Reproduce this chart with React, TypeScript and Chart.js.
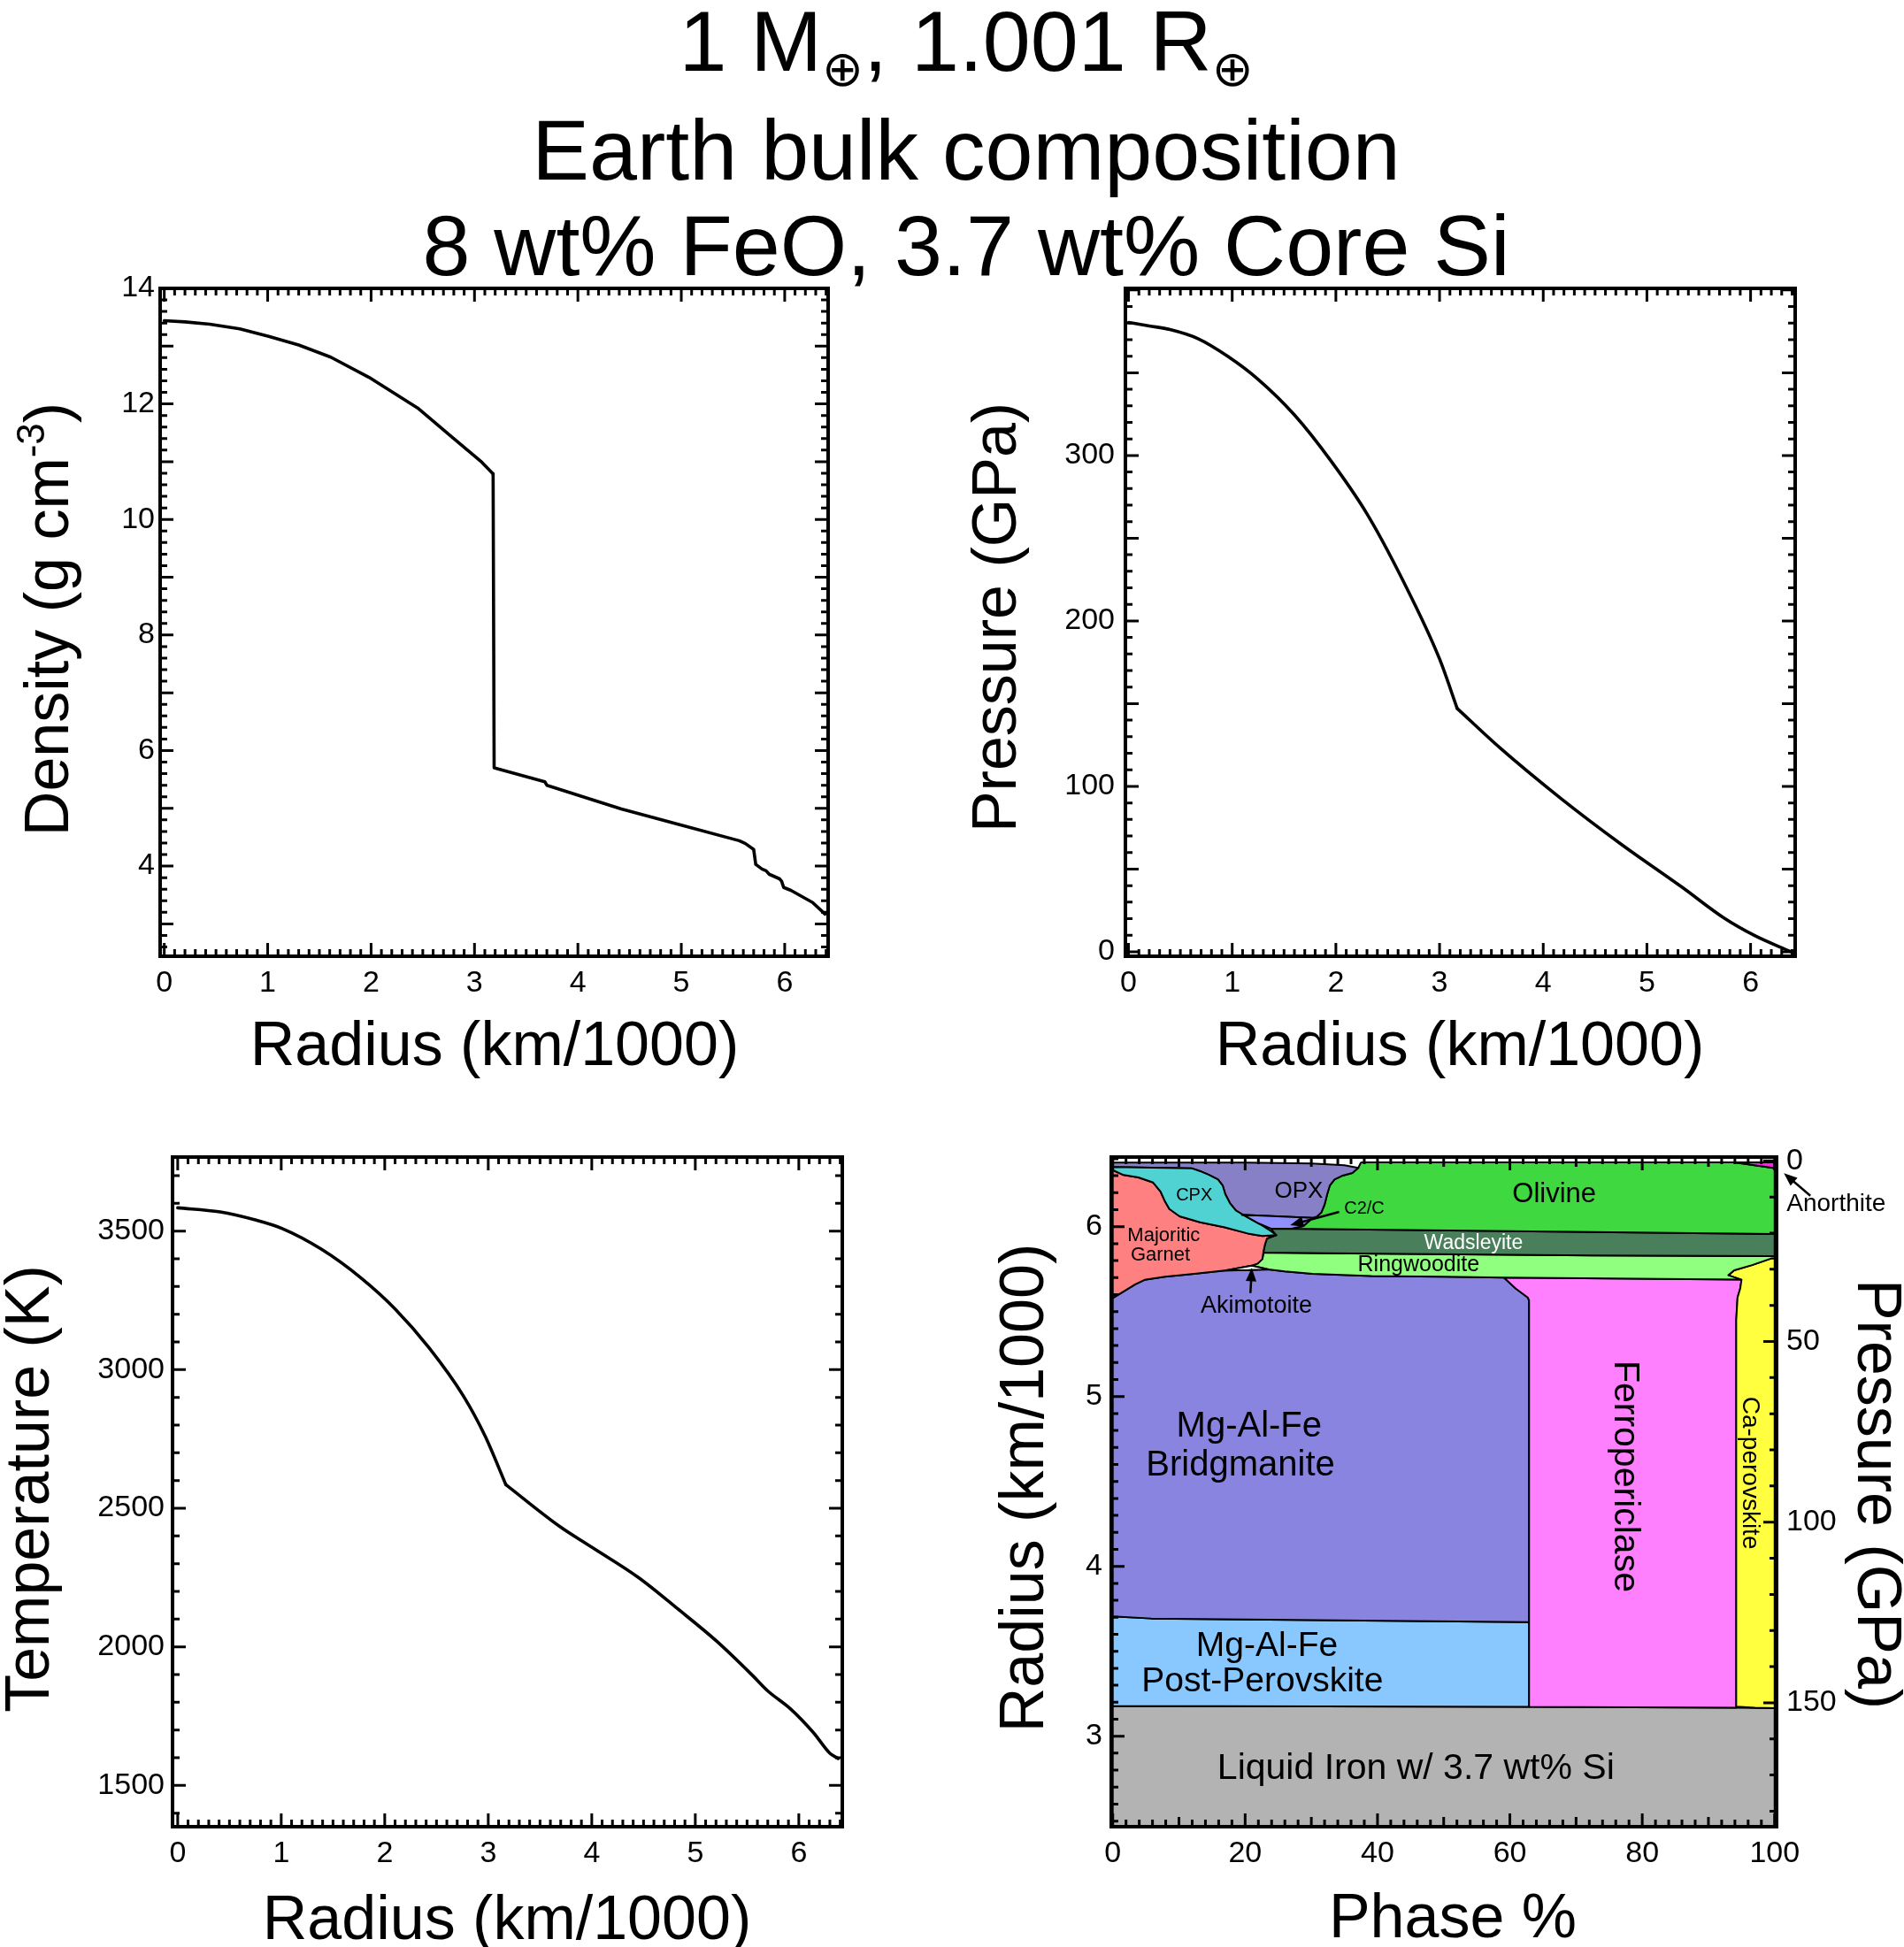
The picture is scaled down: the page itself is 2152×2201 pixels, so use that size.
import React, { useEffect, useRef } from 'react';
import { Chart, registerables } from 'chart.js';

Chart.register(...registerables);

const FONT = '"Liberation Sans", Arial, Helvetica, sans-serif';
const PAGE_W = 2152;
const PAGE_H = 2201;
const Y_AXIS_W = 120;
const X_AXIS_H = 60;

// ---------------- Radial profiles (radius in km/1000) ----------------
// the index of the core-mantle boundary point splits the core and mantle branches
const densityRadius = [0.0, 0.2, 0.44, 0.73, 1.01, 1.3, 1.61, 1.98, 2.45, 2.78, 3.06, 3.18, 3.19, 3.68, 3.7, 4.42, 4.96, 5.56, 5.62, 5.7, 5.72, 5.78, 5.82, 5.85, 5.95, 5.97, 5.99, 6.06, 6.27, 6.39];
const densityValues = [13.44, 13.42, 13.38, 13.3, 13.17, 13.02, 12.81, 12.46, 11.93, 11.43, 11.01, 10.79, 5.7, 5.46, 5.4, 4.99, 4.73, 4.44, 4.39, 4.29, 4.03, 3.95, 3.92, 3.86, 3.78, 3.74, 3.63, 3.58, 3.37, 3.17];
const densityCmbIndex = 11;

const pressureRadius = [0, 0.2, 0.4, 0.67, 0.96, 1.25, 1.6, 1.95, 2.3, 2.65, 3.0, 3.17, 3.58, 4.17, 4.75, 5.34, 5.74, 6.04, 6.39];
const pressureValues = [380.4, 378.3, 376.1, 370.6, 359.8, 346.0, 324.5, 296.9, 264.7, 224.0, 177.0, 147.1, 123.4, 92.7, 65.1, 39.0, 20.6, 9.8, 0];
const pressureCmbIndex = 11;

const temperatureRadius = [0, 0.41, 0.74, 1.01, 1.39, 1.77, 2.1, 2.43, 2.76, 2.97, 3.17, 3.68, 4.01, 4.45, 4.83, 5.21, 5.56, 5.7, 5.92, 6.14, 6.3, 6.38];
const temperatureValues = [3584, 3569, 3541, 3509, 3434, 3331, 3219, 3078, 2905, 2760, 2585, 2437, 2357, 2250, 2137, 2019, 1894, 1841, 1776, 1691, 1616, 1597];
const temperatureCmbIndex = 10;

// ---------------- Tick labels ----------------
const radiusTickLabels = [0, 1, 2, 3, 4, 5, 6];
const densityTickLabels = [4, 6, 8, 10, 12, 14];
const pressureTickLabels = [0, 100, 200, 300];
const temperatureTickLabels = [1500, 2000, 2500, 3000, 3500];
const phaseTickLabels = [0, 20, 40, 60, 80, 100];
const phaseRadiusTickLabels = [3, 4, 5, 6];
const phasePressureTickLabels = [0, 50, 100, 150];

// ---------------- Phase regions: [cumulative phase %, radius km/1000] ----------------
const garnetRegion = [[0, 6.333], [1.64, 6.304], [3.87, 6.29], [6.1, 6.26], [7.2, 6.208], [7.9, 6.148], [8.55, 6.104], [10.1, 6.061], [13.2, 6.026], [16.8, 5.997], [20.4, 5.96], [22.6, 5.945], [24.7, 5.95], [23.3, 5.931], [23.0, 5.896], [22.8, 5.861], [22.6, 5.809], [21.9, 5.783], [21.0, 5.771], [17.2, 5.743], [12.3, 5.722], [7.9, 5.705], [4.8, 5.687], [3.4, 5.661], [1.6, 5.618], [0, 5.58]];
const cpxRegion = [[0, 6.351], [11.9, 6.344], [13.2, 6.327], [14.6, 6.304], [15.9, 6.278], [16.6, 6.243], [17.0, 6.191], [17.7, 6.139], [18.6, 6.096], [19.9, 6.066], [22.1, 6.018], [23.9, 5.974], [24.7, 5.95], [22.6, 5.945], [20.4, 5.96], [16.8, 5.997], [13.2, 6.026], [10.1, 6.061], [8.55, 6.104], [7.9, 6.148], [7.2, 6.208], [6.1, 6.26], [3.87, 6.29], [1.64, 6.304], [0, 6.333]];
const opxRegion = [[0, 6.378], [20, 6.378], [30, 6.372], [35, 6.362], [37.1, 6.346], [36.2, 6.316], [34.6, 6.299], [33.5, 6.278], [32.8, 6.243], [32.4, 6.191], [32.0, 6.13], [31.5, 6.083], [30.8, 6.058], [30.2, 6.052], [19.4, 6.07], [18.6, 6.096], [17.7, 6.139], [17.0, 6.191], [16.6, 6.243], [15.9, 6.278], [14.6, 6.304], [13.2, 6.327], [11.9, 6.344], [0, 6.351]];
const c2cRegion = [[19.4, 6.07], [30.2, 6.052], [28.8, 6.004], [27.0, 5.988], [23.9, 5.988], [22.1, 6.018], [19.9, 6.066]];
const olivineRegion = [[37.5, 6.379], [93.9, 6.379], [100, 6.345], [100, 5.957], [72.5, 5.969], [32.4, 5.986], [27.0, 5.988], [28.8, 6.004], [30.2, 6.052], [30.8, 6.058], [31.5, 6.083], [32.0, 6.13], [32.4, 6.191], [32.8, 6.243], [33.5, 6.278], [34.6, 6.299], [36.2, 6.316], [37.1, 6.346]];
const anorthiteRegion = [[93.9, 6.379], [100, 6.379], [100, 6.345]];
const wadsleyiteRegion = [[23.9, 5.988], [32.4, 5.986], [72.5, 5.969], [100, 5.957], [100, 5.826], [72.5, 5.83], [32.4, 5.844], [22.8, 5.847], [22.8, 5.861], [23.0, 5.896], [23.3, 5.931], [24.7, 5.95]];
const ringwooditeRegion = [[22.8, 5.847], [32.4, 5.844], [72.5, 5.83], [100, 5.826], [100, 5.813], [99.5, 5.813], [96.6, 5.774], [93.9, 5.743], [93.0, 5.714], [95.0, 5.688], [59.1, 5.7], [50, 5.706], [39.1, 5.71], [30.2, 5.722], [26.0, 5.737], [23.5, 5.749], [21.0, 5.771], [21.9, 5.783], [22.6, 5.809]];
const akimotoiteRegion = [[17.0, 5.742], [19.0, 5.756], [21.0, 5.771], [22.5, 5.758], [23.5, 5.749], [20.5, 5.744]];
const bridgmaniteRegion = [[0, 5.58], [1.6, 5.618], [3.4, 5.661], [4.8, 5.687], [7.9, 5.705], [12.3, 5.722], [17.0, 5.742], [20.5, 5.744], [23.5, 5.749], [26.0, 5.737], [30.2, 5.722], [39.1, 5.71], [50, 5.706], [59.1, 5.7], [60.9, 5.635], [62.7, 5.583], [62.9, 5.566], [62.9, 3.672], [5.8, 3.693], [0, 3.705]];
const ferropericlaseRegion = [[59.1, 5.7], [95.0, 5.688], [94.8, 5.635], [94.4, 5.583], [94.2, 5.45], [94.2, 3.168], [62.9, 3.173], [62.9, 5.566], [62.7, 5.583], [60.9, 5.635]];
const caPerovskiteRegion = [[95.0, 5.688], [93.0, 5.714], [93.9, 5.743], [96.6, 5.774], [99.5, 5.813], [100, 5.813], [100, 3.165], [97, 3.167], [94.2, 3.174], [94.2, 5.45], [94.4, 5.583], [94.8, 5.635]];
const postPerovskiteRegion = [[0, 3.705], [5.8, 3.693], [62.9, 3.672], [62.9, 3.173], [0, 3.178]];
const ironRegion = [[0, 3.178], [62.9, 3.173], [94.2, 3.168], [100, 3.165], [100, 2.467], [0, 2.467]];

type Area = { left: number; top: number; right: number; bottom: number };
type TickSpec = { minor: number; major: number; mid?: number };
type Seg = { t: string; size: number; rise?: number };
type TitleSpec = { segs: Seg[]; x: number; y: number; rot: number };
type LabelSpec = { text: string; x: number; y: number; size: number; color?: string; rot?: number };
type ArrowSpec = { from: number[]; to: number[] };

function drawSegments(ctx: CanvasRenderingContext2D, segs: Seg[], x: number, y: number, rotDeg: number) {
  ctx.save();
  ctx.translate(x, y);
  ctx.rotate((rotDeg * Math.PI) / 180);
  ctx.textBaseline = 'alphabetic';
  ctx.textAlign = 'left';
  ctx.fillStyle = '#000';
  let total = 0;
  for (const s of segs) {
    ctx.font = `${s.size}px ${FONT}`;
    total += ctx.measureText(s.t).width;
  }
  let cx = -total / 2;
  for (const s of segs) {
    ctx.font = `${s.size}px ${FONT}`;
    ctx.fillText(s.t, cx, -(s.rise || 0));
    cx += ctx.measureText(s.t).width;
  }
  ctx.restore();
}

function drawArrow(ctx: CanvasRenderingContext2D, x1: number, y1: number, x2: number, y2: number) {
  const a = Math.atan2(y2 - y1, x2 - x1);
  const L = 15;
  const W = 6;
  ctx.beginPath();
  ctx.moveTo(x1, y1);
  ctx.lineTo(x2 - Math.cos(a) * L * 0.7, y2 - Math.sin(a) * L * 0.7);
  ctx.stroke();
  ctx.beginPath();
  ctx.moveTo(x2, y2);
  ctx.lineTo(x2 - L * Math.cos(a) + W * Math.sin(a), y2 - L * Math.sin(a) - W * Math.cos(a));
  ctx.lineTo(x2 - L * Math.cos(a) - W * Math.sin(a), y2 - L * Math.sin(a) + W * Math.cos(a));
  ctx.closePath();
  ctx.fill();
}

function makeOverlay(cfg: { x: TickSpec; y: TickSpec; y2?: TickSpec; titles: TitleSpec[]; labels?: LabelSpec[]; arrows?: ArrowSpec[] }) {
  return {
    id: 'overlay',
    afterDatasetsDraw(chart: any) {
      const { ctx, chartArea: a } = chart;
      const sx = chart.scales.x;
      const sy = chart.scales.y;
      const sy2 = chart.scales.y2 || sy;
      const MAJ = 15, MID = 11, MIN = 8;
      const each = (scale: any, spec: TickSpec, fn: (p: number, len: number) => void) => {
        const lo = Math.min(scale.min, scale.max);
        const hi = Math.max(scale.min, scale.max);
        const n0 = Math.ceil(lo / spec.minor - 1e-9);
        const n1 = Math.floor(hi / spec.minor + 1e-9);
        for (let i = n0; i <= n1; i++) {
          const v = i * spec.minor;
          const isMaj = Math.abs(v / spec.major - Math.round(v / spec.major)) < 1e-6;
          const isMid = spec.mid ? Math.abs(v / spec.mid - Math.round(v / spec.mid)) < 1e-6 : false;
          fn(scale.getPixelForValue(v), isMaj ? MAJ : isMid ? MID : MIN);
        }
      };
      ctx.save();
      ctx.strokeStyle = '#000';
      ctx.lineWidth = 3;
      ctx.lineCap = 'butt';
      ctx.beginPath();
      each(sx, cfg.x, (p, len) => {
        ctx.moveTo(p, a.bottom); ctx.lineTo(p, a.bottom - len);
        ctx.moveTo(p, a.top); ctx.lineTo(p, a.top + len);
      });
      each(sy, cfg.y, (p, len) => { ctx.moveTo(a.left, p); ctx.lineTo(a.left + len, p); });
      each(sy2, cfg.y2 || cfg.y, (p, len) => { ctx.moveTo(a.right, p); ctx.lineTo(a.right - len, p); });
      ctx.stroke();
      ctx.lineWidth = 4;
      ctx.strokeRect(a.left, a.top, a.right - a.left, a.bottom - a.top);
      ctx.restore();
    },
    afterDraw(chart: any) {
      const { ctx } = chart;
      const sx = chart.scales.x;
      const sy = chart.scales.y;
      ctx.save();
      for (const l of cfg.labels || []) {
        ctx.save();
        ctx.translate(sx.getPixelForValue(l.x), sy.getPixelForValue(l.y));
        if (l.rot) ctx.rotate((l.rot * Math.PI) / 180);
        ctx.font = `${l.size}px ${FONT}`;
        ctx.fillStyle = l.color || '#000';
        ctx.textAlign = 'center';
        ctx.textBaseline = 'middle';
        ctx.fillText(l.text, 0, 0);
        ctx.restore();
      }
      ctx.strokeStyle = '#000';
      ctx.fillStyle = '#000';
      ctx.lineWidth = 2.5;
      for (const ar of cfg.arrows || []) {
        drawArrow(ctx, sx.getPixelForValue(ar.from[0]), sy.getPixelForValue(ar.from[1]), sx.getPixelForValue(ar.to[0]), sy.getPixelForValue(ar.to[1]));
      }
      for (const t of cfg.titles) drawSegments(ctx, t.segs, t.x, t.y, t.rot);
      ctx.restore();
    },
  };
}

const tickFont = { family: FONT, size: 34 };

function padding(area: Area, leftW: number, rightW = 0) {
  return { left: area.left - leftW, top: area.top, right: PAGE_W - area.right - rightW, bottom: PAGE_H - area.bottom - X_AXIS_H };
}

function branch(xs: number[], ys: number[], from: number, to: number, smooth: boolean) {
  return {
    data: xs.slice(from, to + 1).map((x, i) => ({ x, y: ys[from + i] })),
    borderColor: '#000', borderWidth: 3.6, pointRadius: 0, fill: false, tension: 0,
    cubicInterpolationMode: smooth ? 'monotone' : 'default', borderJoinStyle: 'round', borderCapStyle: 'round',
  };
}

function profileConfig(p: {
  xs: number[]; ys: number[]; cmb: number; smooth: boolean; area: Area; xMin: number; xMax: number; yMin: number; yMax: number;
  yTicks: number[]; yPad: number; ySpec: TickSpec; titles: TitleSpec[];
}): any {
  return {
    type: 'line',
    data: {
      datasets: [
        branch(p.xs, p.ys, 0, p.cmb, p.smooth),
        branch(p.xs, p.ys, p.cmb, p.xs.length - 1, p.smooth),
      ],
    },
    options: {
      responsive: false, animation: false, devicePixelRatio: 1, events: [],
      layout: { padding: padding(p.area, Y_AXIS_W) },
      plugins: { legend: { display: false }, tooltip: { enabled: false } },
      scales: {
        x: {
          type: 'linear', min: p.xMin, max: p.xMax,
          grid: { display: false, drawTicks: false }, border: { display: false },
          afterFit: (s: any) => { s.height = X_AXIS_H; },
          afterBuildTicks: (s: any) => { s.ticks = radiusTickLabels.map((v) => ({ value: v })); },
          ticks: { autoSkip: false, maxRotation: 0, minRotation: 0, padding: 10, color: '#000', font: tickFont, callback: (v: any) => String(v) },
        },
        y: {
          type: 'linear', min: p.yMin, max: p.yMax,
          grid: { display: false, drawTicks: false }, border: { display: false },
          afterFit: (s: any) => { s.width = Y_AXIS_W; },
          afterBuildTicks: (s: any) => { s.ticks = p.yTicks.map((v) => ({ value: v })); },
          ticks: { autoSkip: false, padding: p.yPad, color: '#000', font: tickFont, callback: (v: any) => String(v) },
        },
      },
    },
    plugins: [makeOverlay({ x: { minor: 0.1, major: 1 }, y: p.ySpec, titles: p.titles })],
  };
}

const radiusTitle = 'Radius (km/1000)';

function densityConfig() {
  return profileConfig({
    xs: densityRadius, ys: densityValues, cmb: densityCmbIndex, smooth: false,
    area: { left: 181, top: 326, right: 936, bottom: 1081 },
    xMin: -0.04, xMax: 6.42, yMin: 2.44, yMax: 14,
    yTicks: densityTickLabels, yPad: 6, ySpec: { minor: 0.2, major: 1 },
    titles: [
      { segs: [{ t: radiusTitle, size: 70 }], x: 559, y: 1204, rot: 0 },
      { segs: [{ t: 'Density (g cm', size: 70 }, { t: '-3', size: 44, rise: 27 }, { t: ')', size: 70 }], x: 77, y: 700, rot: -90 },
    ],
  });
}

function pressureConfig() {
  return profileConfig({
    xs: pressureRadius, ys: pressureValues, cmb: pressureCmbIndex, smooth: true,
    area: { left: 1272, top: 326, right: 2029, bottom: 1081 },
    xMin: -0.03, xMax: 6.43, yMin: -2.7, yMax: 401,
    yTicks: pressureTickLabels, yPad: 12, ySpec: { minor: 10, major: 50 },
    titles: [
      { segs: [{ t: radiusTitle, size: 70 }], x: 1650, y: 1204, rot: 0 },
      { segs: [{ t: 'Pressure (GPa)', size: 70 }], x: 1148, y: 698, rot: -90 },
    ],
  });
}

function temperatureConfig() {
  return profileConfig({
    xs: temperatureRadius, ys: temperatureValues, cmb: temperatureCmbIndex, smooth: true,
    area: { left: 195, top: 1308, right: 952, bottom: 2065 },
    xMin: -0.05, xMax: 6.42, yMin: 1351, yMax: 3767,
    yTicks: temperatureTickLabels, yPad: 9, ySpec: { minor: 100, major: 500 },
    titles: [
      { segs: [{ t: radiusTitle, size: 70 }], x: 573, y: 2192, rot: 0 },
      { segs: [{ t: 'Temperature (K)', size: 70 }], x: 55, y: 1683, rot: -90 },
    ],
  });
}

const phaseRegions = [
  { name: 'Anorthite', pts: anorthiteRegion, color: '#ff20f0' },
  { name: 'Akimotoite', pts: akimotoiteRegion, color: '#ffffff' },
  { name: 'C2/C', pts: c2cRegion, color: '#9090ff' },
  { name: 'CPX', pts: cpxRegion, color: '#50d2d2' },
  { name: 'Majoritic Garnet', pts: garnetRegion, color: '#ff8080' },
  { name: 'OPX', pts: opxRegion, color: '#8880c6' },
  { name: 'Olivine', pts: olivineRegion, color: '#40d840' },
  { name: 'Wadsleyite', pts: wadsleyiteRegion, color: '#4a7f5c' },
  { name: 'Ringwoodite', pts: ringwooditeRegion, color: '#90ff80' },
  { name: 'Ca-perovskite', pts: caPerovskiteRegion, color: '#ffff40' },
  { name: 'Ferropericlase', pts: ferropericlaseRegion, color: '#ff80ff' },
  { name: 'Bridgmanite', pts: bridgmaniteRegion, color: '#8884e0' },
  { name: 'Post-Perovskite', pts: postPerovskiteRegion, color: '#88c8ff' },
  { name: 'Liquid Iron', pts: ironRegion, color: '#b3b3b3' },
];

function phaseConfig(): any {
  const area = { left: 1256, top: 1308, right: 2008, bottom: 2065 };
  return {
    type: 'line',
    data: {
      datasets: phaseRegions.map((r) => ({
        label: r.name,
        data: [...r.pts, r.pts[0]].map(([x, y]) => ({ x, y })),
        borderColor: '#000', borderWidth: 2, backgroundColor: r.color,
        fill: 'shape', clip: false, pointRadius: 0, tension: 0, borderJoinStyle: 'round',
      })),
    },
    options: {
      responsive: false, animation: false, devicePixelRatio: 1, events: [],
      layout: { padding: padding(area, 60, 80) },
      plugins: { legend: { display: false }, tooltip: { enabled: false } },
      scales: {
        x: {
          type: 'linear', min: -0.23, max: 100.3,
          grid: { display: false, drawTicks: false }, border: { display: false },
          afterFit: (s: any) => { s.height = X_AXIS_H; },
          afterBuildTicks: (s: any) => { s.ticks = phaseTickLabels.map((v) => ({ value: v })); },
          ticks: { autoSkip: false, maxRotation: 0, minRotation: 0, padding: 10, color: '#000', font: tickFont, callback: (v: any) => String(v) },
        },
        y: {
          type: 'linear', min: 2.467, max: 6.41,
          grid: { display: false, drawTicks: false }, border: { display: false },
          afterFit: (s: any) => { s.width = 60; },
          afterBuildTicks: (s: any) => { s.ticks = phaseRadiusTickLabels.map((v) => ({ value: v })); },
          ticks: { autoSkip: false, padding: 10, color: '#000', font: tickFont, callback: (v: any) => String(v) },
        },
        y2: {
          type: 'linear', position: 'right', reverse: true, min: -1.05, max: 184.3,
          grid: { display: false, drawTicks: false }, border: { display: false },
          afterFit: (s: any) => { s.width = 80; },
          afterBuildTicks: (s: any) => { s.ticks = phasePressureTickLabels.map((v) => ({ value: v })); },
          ticks: { autoSkip: false, padding: 11, color: '#000', font: tickFont, callback: (v: any) => String(v) },
        },
      },
    },
    plugins: [makeOverlay({
      x: { minor: 2, major: 20, mid: 10 },
      y: { minor: 0.1, major: 1 },
      y2: { minor: 10, major: 50 },
      titles: [
        { segs: [{ t: 'Phase %', size: 70 }], x: 1642, y: 2190, rot: 0 },
        { segs: [{ t: radiusTitle, size: 70 }], x: 1179, y: 1682, rot: -90 },
        { segs: [{ t: 'Pressure (GPa)', size: 70 }], x: 2100, y: 1689, rot: 90 },
      ],
      labels: [
        { text: 'CPX', x: 12.3, y: 6.182, size: 20 },
        { text: 'OPX', x: 28.1, y: 6.208, size: 26 },
        { text: 'C2/C', x: 38.0, y: 6.104, size: 20 },
        { text: 'Olivine', x: 66.7, y: 6.191, size: 31 },
        { text: 'Wadsleyite', x: 54.5, y: 5.899, size: 23, color: '#ffffff' },
        { text: 'Ringwoodite', x: 46.2, y: 5.774, size: 25 },
        { text: 'Majoritic', x: 7.7, y: 5.948, size: 22 },
        { text: 'Garnet', x: 7.2, y: 5.83, size: 22 },
        { text: 'Akimotoite', x: 21.7, y: 5.531, size: 27 },
        { text: 'Mg-Al-Fe', x: 20.6, y: 4.82, size: 40 },
        { text: 'Bridgmanite', x: 19.3, y: 4.594, size: 40 },
        { text: 'Mg-Al-Fe', x: 23.3, y: 3.526, size: 39 },
        { text: 'Post-Perovskite', x: 22.6, y: 3.318, size: 39 },
        { text: 'Liquid Iron w/ 3.7 wt% Si', x: 45.8, y: 2.806, size: 41 },
        { text: 'Ferropericlase', x: 77.3, y: 4.53, size: 41, rot: 90 },
        { text: 'Ca-perovskite', x: 96.3, y: 4.55, size: 28, rot: 90 },
        { text: 'Anorthite', x: 109.3, y: 6.13, size: 28 },
      ],
      arrows: [
        { from: [105.4, 6.182], to: [101.4, 6.315] },
        { from: [34.2, 6.087], to: [26.8, 6.009] },
        { from: [20.8, 5.609], to: [21.0, 5.757] },
      ],
    })],
  };
}

const titleLine: React.CSSProperties = {
  position: 'absolute', left: 0, width: 2184, textAlign: 'center', fontFamily: FONT,
  fontSize: 97, lineHeight: '97px', whiteSpace: 'nowrap', color: '#000',
};
const earthSub: React.CSSProperties = {
  fontSize: 56, lineHeight: 0, position: 'relative', top: 17, fontFamily: '"DejaVu Sans", sans-serif',
};
const canvasStyle: React.CSSProperties = { position: 'absolute', left: 0, top: 0, width: PAGE_W, height: PAGE_H };

export default function App() {
  const r1 = useRef<HTMLCanvasElement>(null);
  const r2 = useRef<HTMLCanvasElement>(null);
  const r3 = useRef<HTMLCanvasElement>(null);
  const r4 = useRef<HTMLCanvasElement>(null);

  useEffect(() => {
    const charts = [
      new Chart(r1.current as HTMLCanvasElement, densityConfig()),
      new Chart(r2.current as HTMLCanvasElement, pressureConfig()),
      new Chart(r3.current as HTMLCanvasElement, temperatureConfig()),
      new Chart(r4.current as HTMLCanvasElement, phaseConfig()),
    ];
    return () => charts.forEach((c) => c.destroy());
  }, []);

  return (
    <div style={{ position: 'absolute', left: 0, top: 0, width: PAGE_W, height: PAGE_H, background: '#fff', overflow: 'hidden' }}>
      <div style={{ ...titleLine, top: -2 }}>
        1 M<span style={earthSub}>⊕</span>, 1.001 R<span style={earthSub}>⊕</span>
      </div>
      <div style={{ ...titleLine, top: 121 }}>Earth bulk composition</div>
      <div style={{ ...titleLine, top: 229 }}>8 wt% FeO, 3.7 wt% Core Si</div>
      <canvas ref={r1} width={PAGE_W} height={PAGE_H} style={canvasStyle} />
      <canvas ref={r2} width={PAGE_W} height={PAGE_H} style={canvasStyle} />
      <canvas ref={r3} width={PAGE_W} height={PAGE_H} style={canvasStyle} />
      <canvas ref={r4} width={PAGE_W} height={PAGE_H} style={canvasStyle} />
    </div>
  );
}
